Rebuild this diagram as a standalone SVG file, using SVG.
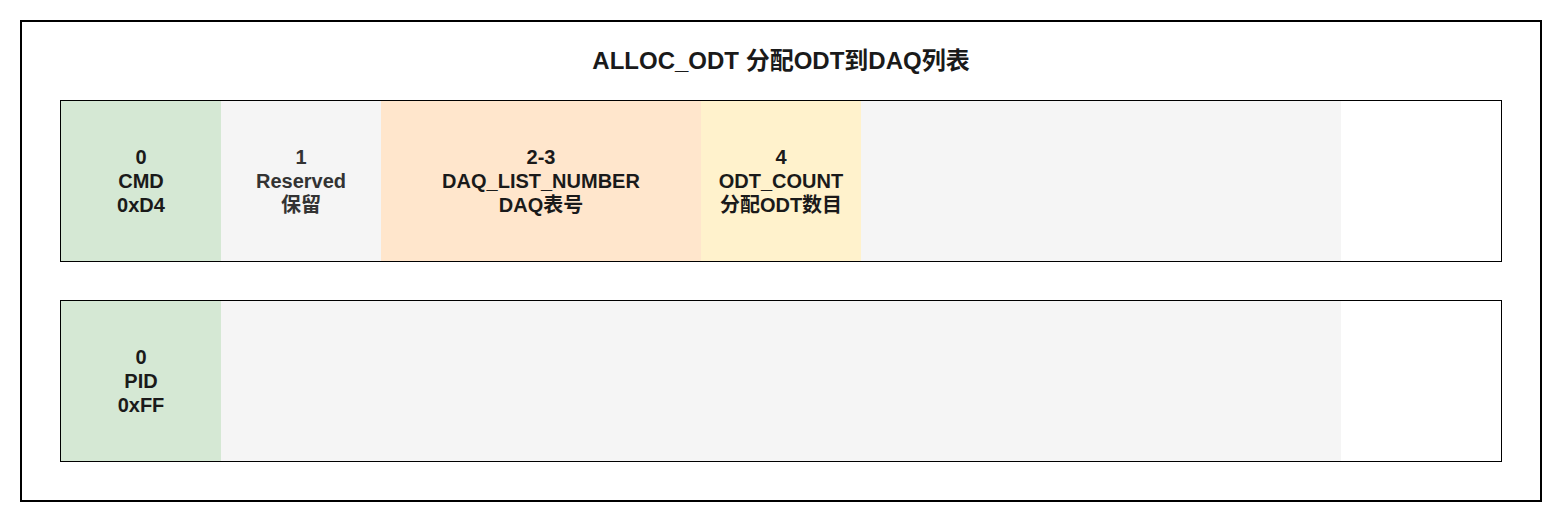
<svg xmlns="http://www.w3.org/2000/svg" width="1564" height="524" viewBox="0 0 1564 524">
<style>
.t{font-family:"Liberation Sans",Arial,"Noto Sans CJK SC",sans-serif;font-weight:bold;font-size:20px;text-anchor:middle;fill:#1a1a1a}
.title{font-size:24px}
.g{fill:#333333}
.frame{fill:#ffffff;stroke:#000000;stroke-width:2}
.row{fill:none;stroke:#000000;stroke-width:1}
</style>
<rect x="0" y="0" width="1564" height="524" fill="#ffffff"/>
<g id="frame"><rect class="frame" x="21" y="21" width="1520" height="480"/></g>
<g id="title"><text class="t title" x="781" y="69">ALLOC_ODT 分配ODT到DAQ列表</text></g>
<g id="row1">
<g id="cmd"><rect x="61" y="101" width="160" height="160" fill="#d5e8d4"/>
<text class="t" y="164"><tspan x="141">0</tspan><tspan x="141" dy="24">CMD</tspan><tspan x="141" dy="24">0xD4</tspan></text></g>
<g id="reserved"><rect x="221" y="101" width="160" height="160" fill="#f5f5f5"/>
<text class="t g" y="164"><tspan x="301">1</tspan><tspan x="301" dy="24">Reserved</tspan><tspan x="301" dy="24">保留</tspan></text></g>
<g id="daqlist"><rect x="381" y="101" width="320" height="160" fill="#ffe6cc"/>
<text class="t" y="164"><tspan x="541">2-3</tspan><tspan x="541" dy="24">DAQ_LIST_NUMBER</tspan><tspan x="541" dy="24">DAQ表号</tspan></text></g>
<g id="odtcount"><rect x="701" y="101" width="160" height="160" fill="#fff2cc"/>
<text class="t" y="164"><tspan x="781">4</tspan><tspan x="781" dy="24">ODT_COUNT</tspan><tspan x="781" dy="24">分配ODT数目</tspan></text></g>
<g id="empty1"><rect x="861" y="101" width="480" height="160" fill="#f5f5f5"/></g>
<rect class="row" x="60.5" y="100.5" width="1441" height="161"/>
</g>
<g id="row2">
<g id="pid"><rect x="61" y="301" width="160" height="160" fill="#d5e8d4"/>
<text class="t" y="364"><tspan x="141">0</tspan><tspan x="141" dy="24">PID</tspan><tspan x="141" dy="24">0xFF</tspan></text></g>
<g id="empty2"><rect x="221" y="301" width="1120" height="160" fill="#f5f5f5"/></g>
<rect class="row" x="60.5" y="300.5" width="1441" height="161"/>
</g>
<g id="connectors"></g>
</svg>
